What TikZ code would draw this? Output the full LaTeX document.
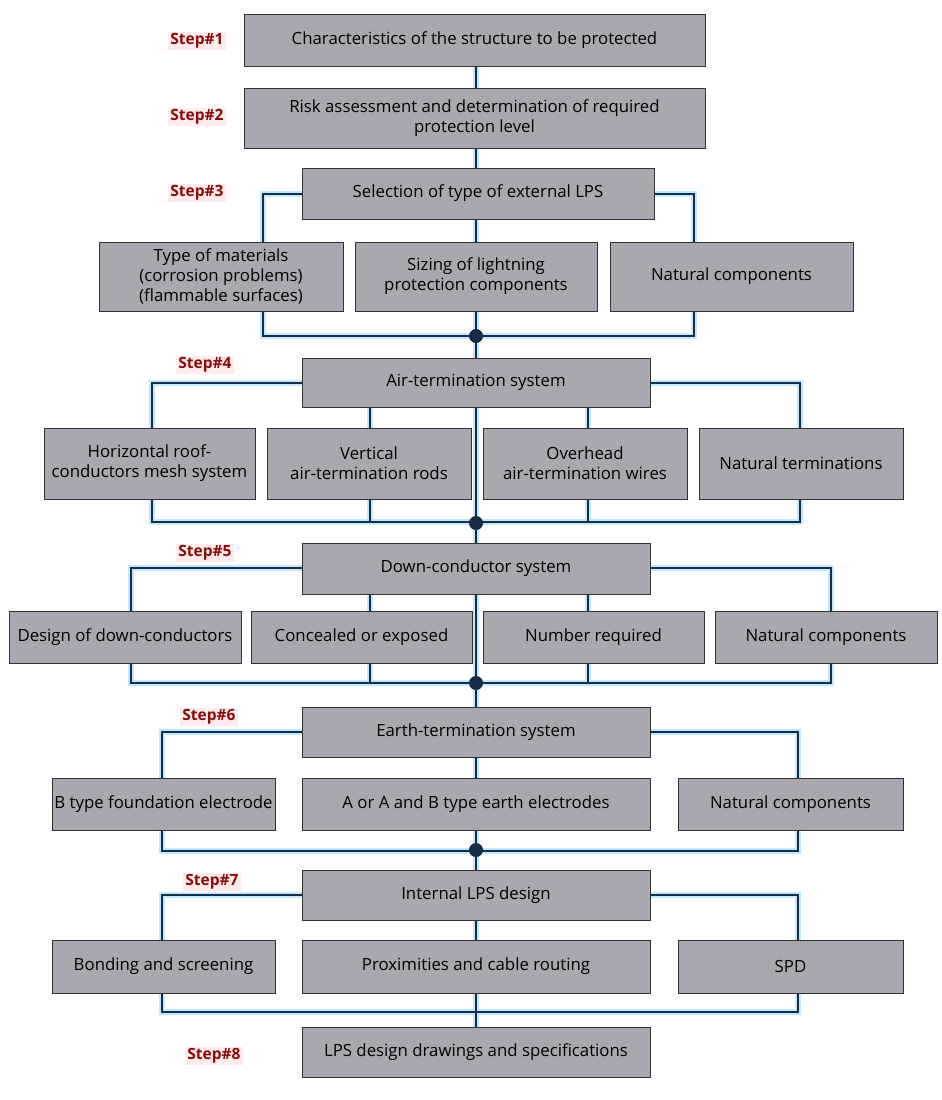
\documentclass[tikz,border=0pt]{standalone}
\usepackage{fontspec}
\setmainfont{Open Sans}
\begin{document}
\begin{tikzpicture}[x=1pt,y=-1pt,
  box/.style={draw=black!80,line width=1pt,fill=boxgray,text=black,align=center,font=\fontsize{16.8}{20}\selectfont,inner sep=0pt},
  steplbl/.style={text=steptext,fill=red!8,font=\bfseries\fontsize{15.5}{17}\selectfont,inner sep=2pt},
  glow/.style={line width=6pt,draw=cyan!25},
  ln/.style={line width=1.4pt,draw=linecol},
  dot/.style={circle,fill=linecol,minimum size=14pt,inner sep=0pt}]
\definecolor{boxgray}{HTML}{A9A8B0}
\definecolor{steptext}{HTML}{8B0A0A}
\definecolor{linecol}{HTML}{1A2A4A}
\useasboundingbox (0,0) rectangle (942,1100);
\fill[white] (0,0) rectangle (942,1100);
% coordinates
\coordinate (d1) at (476,336);
\coordinate (d2) at (476,523);
\coordinate (d3) at (476,683);
\coordinate (d4) at (476,850);
\coordinate (e8) at (476,1012);
% connectors
\foreach \s in {glow,ln}{
\draw[\s] (476,40) -- (476,1052);
\draw[\s] (476,194) -| (263,336) -- (694,336) |- (476,194);
\draw[\s] (476,383) -| (152,522) -- (800,522) |- (476,383);
\draw[\s] (370,383) -- (370,522); \draw[\s] (588,383) -- (588,522);
\draw[\s] (476,568) -| (131,683) -- (831,683) |- (476,568);
\draw[\s] (370,568) -- (370,683); \draw[\s] (588,568) -- (588,683);
\draw[\s] (476,732) -| (162,851) -- (798,851) |- (476,732);
\draw[\s] (476,895) -| (162,1012) -- (798,1012) |- (476,895);
}
% boxes
\node[box,minimum width=461pt,minimum height=52pt] (b1) at (474.5,40) {Characteristics of the structure to be protected};
\node[box,minimum width=461pt,minimum height=60pt] (b2) at (474.5,118) {Risk assessment and determination of required\\protection level};
\node[box,minimum width=352pt,minimum height=51pt] (b3) at (478,193.5) {Selection of type of external LPS};
\node[box,minimum width=244pt,minimum height=69pt] (b3a) at (221,276.5) {Type of materials\\(corrosion problems)\\(flammable surfaces)};
\node[box,minimum width=242pt,minimum height=69pt] (b3b) at (476,276.5) {Sizing of lightning\\protection components};
\node[box,minimum width=243pt,minimum height=69pt] (b3c) at (731.5,276.5) {Natural components};
\node[box,minimum width=348pt,minimum height=49pt] (b4) at (476,382.5) {Air-termination system};
\node[box,minimum width=211pt,minimum height=71pt] (b4a) at (149.5,463.5) {Horizontal roof-\\conductors mesh system};
\node[box,minimum width=204pt,minimum height=71pt] (b4b) at (369,463.5) {Vertical\\air-termination rods};
\node[box,minimum width=204pt,minimum height=71pt] (b4c) at (585,463.5) {Overhead\\air-termination wires};
\node[box,minimum width=204pt,minimum height=71pt] (b4d) at (801,463.5) {Natural terminations};
\node[box,minimum width=348pt,minimum height=51pt] (b5) at (476,568.5) {Down-conductor system};
\node[box,minimum width=232pt,minimum height=52pt] (b5a) at (125,637) {Design of down-conductors};
\node[box,minimum width=221pt,minimum height=52pt] (b5b) at (361.5,637) {Concealed or exposed};
\node[box,minimum width=221pt,minimum height=52pt] (b5c) at (593.5,637) {Number required};
\node[box,minimum width=222pt,minimum height=52pt] (b5d) at (826,637) {Natural components};
\node[box,minimum width=348pt,minimum height=50pt] (b6) at (476,732) {Earth-termination system};
\node[box,minimum width=223pt,minimum height=52pt] (b6a) at (163.5,804) {B type foundation electrode};
\node[box,minimum width=348pt,minimum height=52pt] (b6b) at (476,804) {A or A and B type earth electrodes};
\node[box,minimum width=225pt,minimum height=52pt] (b6c) at (790.5,804) {Natural components};
\node[box,minimum width=348pt,minimum height=50pt] (b7) at (476,895) {Internal LPS design};
\node[box,minimum width=223pt,minimum height=53pt] (b7a) at (163.5,966.5) {Bonding and screening};
\node[box,minimum width=348pt,minimum height=53pt] (b7b) at (476,966.5) {Proximities and cable routing};
\node[box,minimum width=225pt,minimum height=53pt] (b7c) at (790.5,966.5) {SPD};
\node[box,minimum width=348pt,minimum height=50pt] (b8) at (476,1052) {LPS design drawings and specifications};
% dots
\foreach \d in {d1,d2,d3,d4} \node[dot] at (\d) {};
% step labels
\node[steplbl] (s1) at (197,41) {Step\#1};
\node[steplbl] (s2) at (197,117) {Step\#2};
\node[steplbl] (s3) at (197,193) {Step\#3};
\node[steplbl] (s4) at (205,365) {Step\#4};
\node[steplbl] (s5) at (205,553) {Step\#5};
\node[steplbl] (s6) at (209,717) {Step\#6};
\node[steplbl] (s7) at (212,882) {Step\#7};
\node[steplbl] (s8) at (214,1056) {Step\#8};
\end{tikzpicture}
\end{document}
